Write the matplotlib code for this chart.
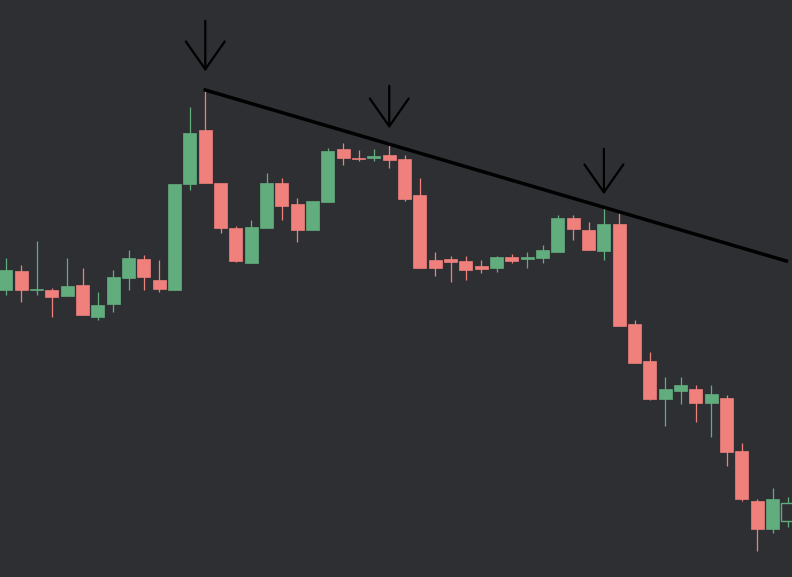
import matplotlib
matplotlib.use("Agg")
import matplotlib.pyplot as plt
from matplotlib.patches import Rectangle

# prices expressed on a 0-577 scale (higher = up)
opens  = [287,306,287,287,281,292,260,273,299,318,297,287,393,447,394,349,314,349,394,373,347,375,428,419,419,422,418,382,317,318,316,311,309,320,318,319,325,359,347,326,353,253,216,178,186,188,174,179,126,76,48,56]
closes = [307,287,288,280,291,262,272,300,319,300,288,393,444,394,349,316,350,394,371,347,376,426,419,418,421,417,378,309,309,315,307,308,320,316,320,327,359,348,327,353,251,214,178,188,192,174,183,125,78,48,78,74]
highs  = [319,312,336,289,319,309,285,307,327,322,317,393,470,487,394,351,357,404,399,379,376,429,434,427,428,435,422,399,325,321,321,317,321,323,325,332,362,362,355,370,364,257,225,200,200,192,192,182,134,78,89,80]
lows   = [282,275,282,260,281,262,257,265,287,287,285,287,387,394,344,315,314,349,357,335,347,375,412,416,416,409,376,309,301,295,297,304,305,314,309,314,325,337,327,317,251,214,177,151,173,155,140,111,76,26,44,50]

BG = "#2e2f33"
UP = "#62ad7e"
DN = "#ef807b"

fig = plt.figure(figsize=(7.92, 5.77), dpi=100, facecolor=BG)
ax = fig.add_axes([0, 0, 1, 1], facecolor=BG)
ax.set_xlim(-0.39, 51.27)
ax.set_ylim(0, 577)
ax.axis("off")

w = 0.85
n = len(opens)
for i in range(n):
    o, c, h, l = opens[i], closes[i], highs[i], lows[i]
    col = UP if c >= o else DN
    ax.vlines(i, l, h, color=col, lw=0.9, zorder=2)
    bot = min(o, c)
    hgt = max(abs(c - o), 1.2)
    if i == n - 1:
        ax.add_patch(Rectangle((i - w / 2, bot), w, hgt, facecolor=BG, edgecolor=col, lw=1, zorder=3))
    else:
        ax.add_patch(Rectangle((i - w / 2, bot), w, hgt, facecolor=col, edgecolor=col, lw=0.5, zorder=3))

# trend line
ax.plot([13, 50.9], [487, 316], color="black", lw=2.5, zorder=4)

# arrows
for xi, ytop, ybot in [(13, 559, 503), (25, 494, 446), (39, 431, 380)]:
    ax.annotate("", xy=(xi, ybot), xytext=(xi, ytop),
                arrowprops=dict(arrowstyle="->,head_length=1.0,head_width=0.7",
                                color="black", lw=1.6, mutation_scale=20), zorder=5)

fig.savefig("out.png", dpi=100, facecolor=BG)
